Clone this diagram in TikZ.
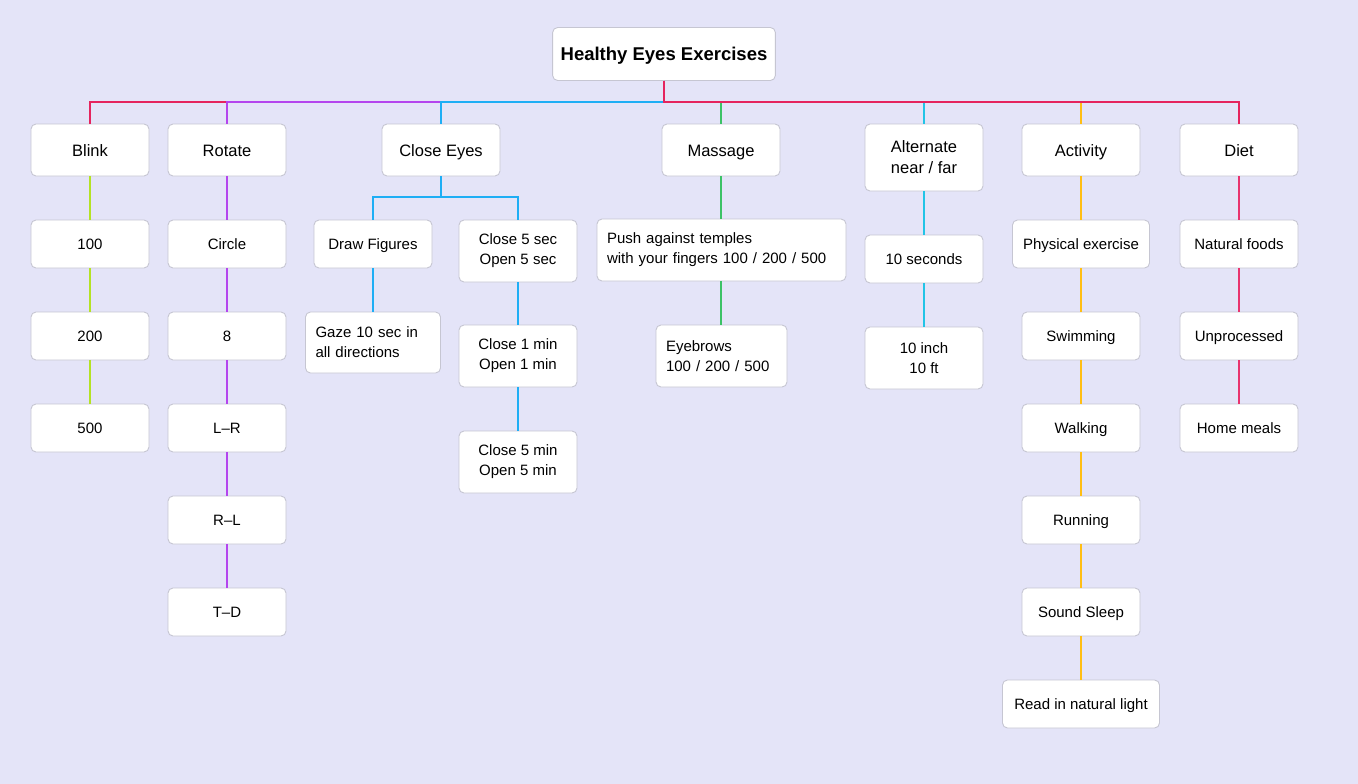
\documentclass[tikz,border=0pt]{standalone}
\usepackage{fontspec}
\setmainfont{Liberation Sans}
\definecolor{bg}{HTML}{E4E4F8}
\definecolor{boxline}{HTML}{C6C6D2}
\definecolor{cred}{HTML}{E5245E}
\definecolor{cpurple}{HTML}{B445EE}
\definecolor{cblue}{HTML}{1EAEF5}
\definecolor{cgreen}{HTML}{3CC266}
\definecolor{ccyan}{HTML}{22C4E6}
\definecolor{corange}{HTML}{FFBE14}
\definecolor{clime}{HTML}{B4E224}
\definecolor{cpink}{HTML}{E8336E}
\begin{document}
\begin{tikzpicture}[x=1pt,y=-1pt,
  box/.style={draw=boxline, line width=0.9pt, fill=white, rounded corners=5pt,
    inner xsep=8pt, inner ysep=2pt, align=center, font=\fontsize{15}{20}\selectfont,
    minimum width=118pt, minimum height=48pt},
  sbox/.style={box, text height=13.5pt, text depth=2.7pt},
  topbox/.style={sbox, font=\fontsize{16.5}{21}\selectfont, minimum height=52pt, text height=15pt, text depth=3pt},
  lbox/.style={box, align=left, inner xsep=10pt},
  conn/.style={line width=2pt}]
\useasboundingbox (0,0) rectangle (1358,784);
\fill[bg] (0,0) rectangle (1358,784);
\coordinate (bus) at (0,102);
\coordinate (cbus) at (0,197);

% root
\node[box, font=\bfseries\fontsize{18.5}{22}\selectfont, minimum width=220pt, minimum height=53pt, text height=16.5pt, text depth=3.2pt] (root) at (664,54) {Healthy Eyes Exercises};

% level 1
\node[topbox] (blink) at (90,150) {Blink};
\node[topbox] (rotate) at (227,150) {Rotate};
\node[topbox] (close) at (441,150) {Close Eyes};
\node[topbox] (massage) at (721,150) {Massage};
\node[box, font=\fontsize{16.5}{21}\selectfont, minimum height=67pt] (alt) at (924,157.5) {Alternate\\near / far};
\node[topbox] (activity) at (1081,150) {Activity};
\node[topbox] (diet) at (1239,150) {Diet};

% Blink
\node[sbox] (b100) at (90,244) {100};
\node[sbox] (b200) at (90,336) {200};
\node[sbox] (b500) at (90,428) {500};

% Rotate
\node[sbox] (circle) at (227,244) {Circle};
\node[sbox] (eight) at (227,336) {8};
\node[sbox] (lr) at (227,428) {L–R};
\node[sbox] (rl) at (227,520) {R–L};
\node[sbox] (td) at (227,612) {T–D};

% Close eyes
\node[sbox] (draw) at (373,244) {Draw Figures};
\node[box, minimum height=62pt] (c5s) at (518,251) {Close 5 sec\\Open 5 sec};
\node[lbox, text width=115pt, minimum height=61pt] (gaze) at (373,342.5) {Gaze 10 sec in\\all directions};
\node[box, minimum height=62pt] (c1m) at (518,356) {Close 1 min\\Open 1 min};
\node[box, minimum height=62pt] (c5m) at (518,462) {Close 5 min\\Open 5 min};

% Massage
\node[lbox, text width=229pt, minimum height=62pt] (push) at (721.5,250) {Push against temples\\with your fingers 100 / 200 / 500};
\node[lbox, text width=111pt, minimum height=62pt] (brows) at (721.5,356) {Eyebrows\\100 / 200 / 500};

% Alternate
\node[sbox] (tens) at (924,259) {10 seconds};
\node[box, minimum height=62pt] (inch) at (924,358) {10 inch\\10 ft};

% Activity
\node[sbox, minimum width=137pt] (phys) at (1081,244) {Physical exercise};
\node[sbox] (swim) at (1081,336) {Swimming};
\node[sbox] (walk) at (1081,428) {Walking};
\node[sbox] (run) at (1081,520) {Running};
\node[sbox] (sleep) at (1081,612) {Sound Sleep};
\node[sbox, minimum width=157pt] (read) at (1081,704) {Read in natural light};

% Diet
\node[sbox] (natural) at (1239,244) {Natural foods};
\node[sbox] (unproc) at (1239,336) {Unprocessed};
\node[sbox] (home) at (1239,428) {Home meals};

% connectors from root (order matters for overlaps)
\draw[conn, cred] (root.south) -- (root.south |- bus) -| (blink.north);
\draw[conn, cpurple] (root.south) -- (root.south |- bus) -| (rotate.north);
\draw[conn, cblue] (root.south) -- (root.south |- bus) -| (close.north);
\draw[conn, cgreen] (root.south) -- (root.south |- bus) -| (massage.north);
\draw[conn, ccyan] (root.south) -- (root.south |- bus) -| (alt.north);
\draw[conn, corange] (root.south) -- (root.south |- bus) -| (activity.north);
\draw[conn, cred] (root.south) -- (root.south |- bus) -| (diet.north);

% Blink chain
\draw[conn, clime] (blink.south) -- (b100.north);
\draw[conn, clime] (b100.south) -- (b200.north);
\draw[conn, clime] (b200.south) -- (b500.north);

% Rotate chain
\draw[conn, cpurple] (rotate.south) -- (circle.north);
\draw[conn, cpurple] (circle.south) -- (eight.north);
\draw[conn, cpurple] (eight.south) -- (lr.north);
\draw[conn, cpurple] (lr.south) -- (rl.north);
\draw[conn, cpurple] (rl.south) -- (td.north);

% Close eyes
\draw[conn, cblue] (close.south) -- (close.south |- cbus) -| (draw.north);
\draw[conn, cblue] (close.south) -- (close.south |- cbus) -| (c5s.north);
\draw[conn, cblue] (draw.south) -- (gaze.north);
\draw[conn, cblue] (c5s.south) -- (c1m.north);
\draw[conn, cblue] (c1m.south) -- (c5m.north);

% Massage
\draw[conn, cgreen] (massage.south) -- (massage.south |- push.north);
\draw[conn, cgreen] (push.south -| massage.south) -- (massage.south |- brows.north);

% Alternate
\draw[conn, ccyan] (alt.south) -- (tens.north);
\draw[conn, ccyan] (tens.south) -- (inch.north);

% Activity
\draw[conn, corange] (activity.south) -- (phys.north);
\draw[conn, corange] (phys.south) -- (swim.north);
\draw[conn, corange] (swim.south) -- (walk.north);
\draw[conn, corange] (walk.south) -- (run.north);
\draw[conn, corange] (run.south) -- (sleep.north);
\draw[conn, corange] (sleep.south) -- (read.north);

% Diet
\draw[conn, cpink] (diet.south) -- (natural.north);
\draw[conn, cpink] (natural.south) -- (unproc.north);
\draw[conn, cpink] (unproc.south) -- (home.north);
\end{tikzpicture}
\end{document}
